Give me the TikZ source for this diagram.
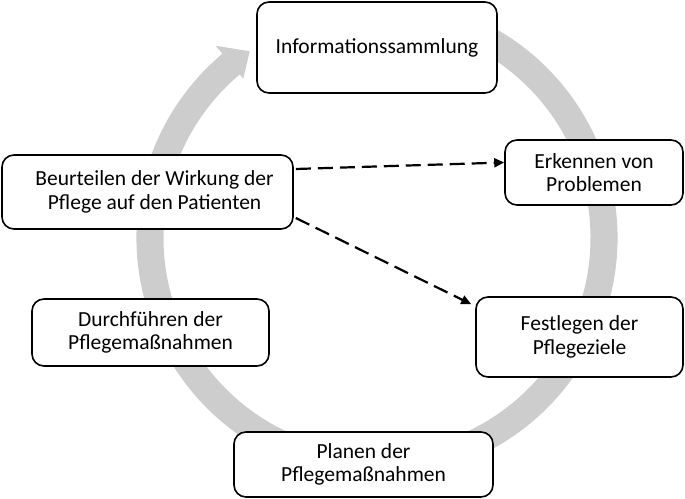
\documentclass[tikz,border=0pt]{standalone}
\usepackage{fontspec}
\setmainfont{Carlito}
\usetikzlibrary{arrows.meta}
\definecolor{ringgray}{RGB}{205,205,205}
\tikzset{
  box/.style={draw=black, line width=1.6bp, rounded corners=12bp, fill=white,
    align=center, inner sep=0pt, font=\fontsize{21.5bp}{23.5bp}\selectfont},
  dasharrow/.style={draw=black, line width=2.2bp, dash pattern=on 15bp off 7bp,
    -{Triangle[length=10bp,width=9bp]}}
}
\begin{document}
\begin{tikzpicture}[x=1bp,y=1bp]
\useasboundingbox (0,0) rectangle (685,499);
% grey cycle arrow
\begin{scope}[shift={(377,261)}]
\fill[ringgray] (70:240.5) arc[start angle=70, end angle=-230, radius=240.5]
  -- (-230:251) -- (-235.7:226) -- (-230:208) -- (-230:213.5)
  arc[start angle=-230, end angle=70, radius=213.5] -- cycle;
\end{scope}
% boxes
\node[box, minimum width=240bp, minimum height=91bp] (info) at (377,451.5) {Informationssammlung};
\node[box, minimum width=291bp, minimum height=74bp] (beur) at (147.5,307) {\hspace*{14bp}Beurteilen der Wirkung der\\\hspace*{14bp}Pflege auf den Patienten};
\node[box, minimum width=178bp, minimum height=65bp] (erk) at (594,326.5) {Erkennen von\\Problemen};
\node[box, minimum width=207bp, minimum height=80bp] (fest) at (579.5,162) {Festlegen der\\Pflegeziele};
\node[box, minimum width=237bp, minimum height=67bp] (durch) at (150.5,166.5) {Durchführen der\\Pflegemaßnahmen};
\node[box, minimum width=259bp, minimum height=65bp] (plan) at (363.5,34.5) {Planen der\\Pflegemaßnahmen};
% dashed arrows
\draw[dasharrow] ([xshift=2bp,yshift=23bp]beur.east) -- ([yshift=10bp]erk.west);
\draw[dasharrow] ([xshift=2bp,yshift=-26bp]beur.east) -- ([xshift=-4bp,yshift=-8bp]fest.north west);
\end{tikzpicture}
\end{document}
